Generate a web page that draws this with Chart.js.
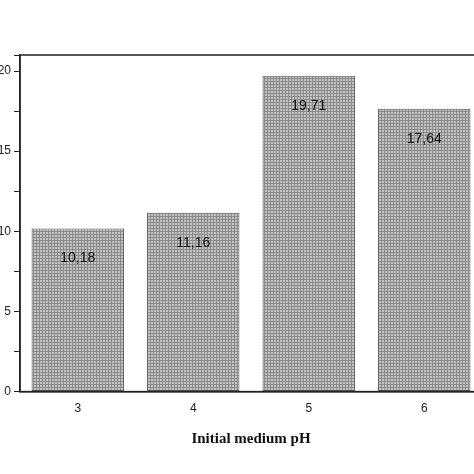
<!DOCTYPE html>
<html>
<head>
<meta charset="utf-8">
<script src="https://cdn.jsdelivr.net/npm/chart.js@4"></script>
<style>
  html, body { margin: 0; padding: 0; background: #fff; overflow: hidden; }
  #wrap { position: absolute; left: -30px; top: 0; width: 540px; height: 474px; }
</style>
</head>
<body>
<div id="wrap"><canvas id="myChart" width="540" height="474"></canvas></div>
<script>
const categories = ['3', '4', '5', '6'];
const values = [10.18, 11.16, 19.71, 17.64];
const valueLabels = ['10,18', '11,16', '19,71', '17,64'];

function hatch() {
  const c = document.createElement('canvas');
  c.width = 3; c.height = 3;
  const g = c.getContext('2d');
  g.fillStyle = '#c4c4c4';
  g.fillRect(0, 0, 3, 3);
  g.fillStyle = '#8a8a8a';
  g.fillRect(0, 0, 3, 1);
  g.fillRect(0, 0, 1, 3);
  return g.createPattern(c, 'repeat');
}

const framePlugin = {
  id: 'frame',
  afterDraw(chart) {
    const { ctx, chartArea: a } = chart;
    ctx.save();
    ctx.strokeStyle = '#222';
    ctx.lineWidth = 1.5;
    ctx.strokeRect(a.left, a.top, a.right - a.left, a.bottom - a.top);
    ctx.fillStyle = '#111';
    ctx.font = '14px Arial, "Liberation Sans"';
    ctx.textAlign = 'center';
    ctx.textBaseline = 'middle';
    chart.getDatasetMeta(0).data.forEach((bar, i) => {
      ctx.fillText(valueLabels[i], bar.x, bar.y + 30);
    });
    ctx.restore();
  }
};

window.onload = function() {
  const ctx = document.getElementById('myChart').getContext('2d');
  new Chart(ctx, {
    type: 'bar',
    data: {
      labels: categories,
      datasets: [{
        data: values,
        backgroundColor: hatch(),
        borderColor: '#555',
        borderWidth: 1,
        borderSkipped: false,
        barPercentage: 0.8,
        categoryPercentage: 1
      }]
    },
    options: {
      responsive: false,
      animation: false,
      layout: { padding: { top: 55, right: 28, bottom: 22, left: 0 } },
      plugins: { legend: { display: false }, tooltip: { enabled: false } },
      scales: {
        x: {
          grid: { display: false, drawTicks: true, tickLength: 6, color: '#222' },
          border: { color: '#222', width: 1.5 },
          ticks: { color: '#222', font: { family: 'Arial', size: 12 }, padding: 4 },
          title: {
            display: true,
            text: 'Initial medium pH',
            color: '#111',
            font: { family: '"Liberation Serif", "Times New Roman", serif', size: 15, weight: 'bold' },
            padding: { top: 10 }
          }
        },
        y: {
          min: 0,
          max: 21,
          afterFit(axis) { axis.width = 50; },
          grid: { drawOnChartArea: false, tickLength: 6, color: '#222' },
          border: { color: '#222', width: 1.5 },
          ticks: {
            stepSize: 2.5,
            color: '#222',
            font: { family: 'Arial', size: 12 },
            padding: 3,
            callback: v => (v % 5 === 0 ? v : '')
          }
        }
      }
    },
    plugins: [framePlugin]
  });
};
</script>
</body>
</html>
